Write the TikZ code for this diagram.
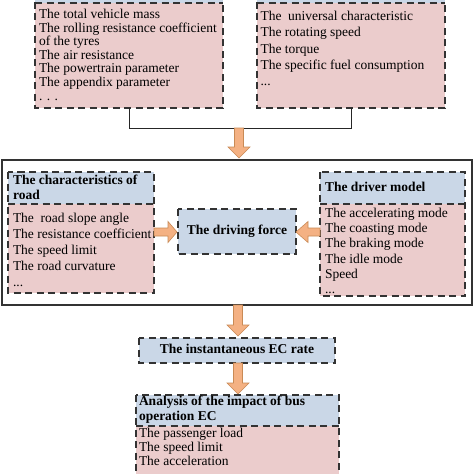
\documentclass[tikz,border=0pt]{standalone}
\usepackage{fontspec}
\setmainfont{Liberation Serif}
\definecolor{pinkf}{HTML}{EBCCCC}
\definecolor{bluef}{HTML}{CAD7E7}
\definecolor{dashc}{HTML}{333333}
\definecolor{orf}{HTML}{F4B183}
\definecolor{ord}{HTML}{C98A55}
\tikzset{
  fillbox/.style={inner sep=0pt, outer sep=0pt, anchor=north west, draw=none},
  pinkbox/.style={fillbox, fill=pinkf},
  bluebox/.style={fillbox, fill=bluef},
  dl/.style={draw=dashc, line width=1.3pt, dash pattern=on 7pt off 4.5pt},
  conn/.style={draw=black!85, line width=0.9pt},
  frameline/.style={draw=black!80, line width=1.1pt},
  blockarrow/.style={fill=orf, draw=ord, line width=0.6pt, line join=miter},
  txt/.style={inner sep=0pt, outer sep=0pt, anchor=north west, align=left},
  bodyfont/.style={font=\fontsize{13.5}{#1}\selectfont},
  headfont/.style={font=\fontsize{13.5}{#1}\selectfont\bfseries},
}
\newcommand\arrowdown[3]{%
  \draw[blockarrow] ({#1-4.5},#2) -- ({#1+4.5},#2) -- ({#1+4.5},{#3-11}) -- ({#1+11},{#3-11}) -- (#1,#3) -- ({#1-11},{#3-11}) -- ({#1-4.5},{#3-11}) -- cycle;}
\newcommand\arrowright[3]{% y, x1, xtip
  \draw[blockarrow] (#2,{#1-4}) -- (#2,{#1+4}) -- ({#3-9},{#1+4}) -- ({#3-9},{#1+10.5}) -- (#3,#1) -- ({#3-9},{#1-10.5}) -- ({#3-9},{#1-4}) -- cycle;}
\newcommand\arrowleft[3]{% y, x1, xtip
  \draw[blockarrow] (#2,{#1-4}) -- (#2,{#1+4}) -- ({#3+12},{#1+4}) -- ({#3+12},{#1+10.5}) -- (#3,#1) -- ({#3+12},{#1-10.5}) -- ({#3+12},{#1-4}) -- cycle;}
\begin{document}
\begin{tikzpicture}[x=1pt,y=-1pt]
\clip (0,0) rectangle (474,474);
\fill[white] (0,0) rectangle (474,474);

% top left box
\node[bluebox, minimum width=188pt, minimum height=13pt] (tlh) at (35,-10) {};
\node[pinkbox, minimum width=188pt, minimum height=105pt] (tlb) at (35,3) {};
\draw[dl] (tlh.north west) rectangle (tlb.south east);
\draw[dl] (tlh.south west) -- (tlh.south east);
\node[txt, bodyfont=13.6] (tlt) at (39,9.1) {The total vehicle mass\\The rolling resistance coefficient\\of the tyres\\The air resistance\\The powertrain parameter\\The appendix parameter\\. . .};

% top right box
\node[bluebox, minimum width=188pt, minimum height=13pt] (trh) at (257,-10) {};
\node[pinkbox, minimum width=188pt, minimum height=105pt] (trb) at (257,3) {};
\draw[dl] (trh.north west) rectangle (trb.south east);
\draw[dl] (trh.south west) -- (trh.south east);
\node[txt, bodyfont=16.1] (trt) at (260.5,11.5) {The\ \ universal characteristic\\The rotating speed\\The torque\\The specific fuel consumption\\...};

% connector
\draw[conn] (tlb.south) -- ++(0,20) coordinate (j1) -| (trb.south);
\coordinate (topc) at (239,128);
\arrowdown{239}{128}{158}

% frame
\node[fillbox, draw=black!80, line width=1.1pt, minimum width=470pt, minimum height=145pt] (frame) at (2,160) {};

% road box
\node[bluebox, minimum width=146pt, minimum height=32pt] (rh) at (8,172) {};
\node[pinkbox, minimum width=146pt, minimum height=89pt] (rb) at (8,204) {};
\draw[dl] (rh.north west) rectangle (rb.south east);
\draw[dl] (rh.south west) -- (rh.south east);
\node[txt, headfont=15] (rht) at (13,174.8) {The characteristics of\\road};
\node[txt, bodyfont=16] (rbt) at (13,213.5) {The\ \ road slope angle\\The resistance coefficient\\The speed limit\\The road curvature\\...};

% driver box
\node[bluebox, minimum width=145pt, minimum height=32pt] (dh) at (320,172) {};
\node[pinkbox, minimum width=145pt, minimum height=92pt] (db) at (320,204) {};
\draw[dl] (dh.north west) rectangle (db.south east);
\draw[dl] (dh.south west) -- (dh.south east);
\node[txt, headfont=15] (dht) at (325,182.4) {The driver model};
\node[txt, bodyfont=15.3] (dbt) at (325,207.8) {The accelerating mode\\The coasting mode\\The braking mode\\The idle mode\\Speed\\...};

% driving force
\node[bluebox, minimum width=118pt, minimum height=45pt] (force) at (178,209) {};
\draw[dl] (force.north west) rectangle (force.south east);
\node[inner sep=0pt, anchor=base, headfont=15] (forcet) at (237,234) {The driving force};

\arrowright{232}{154}{177}
\arrowleft{232}{320}{296}

% EC rate
\arrowdown{238}{305}{336}
\node[bluebox, minimum width=196pt, minimum height=25pt] (ec) at (139,338) {};
\draw[dl] (ec.north west) rectangle (ec.south east);
\node[inner sep=0pt, anchor=base, headfont=15] (ect) at (237,353) {The instantaneous EC rate};

\arrowdown{238}{363}{394}

% analysis box
\node[bluebox, minimum width=203pt, minimum height=31pt] (ah) at (136,395) {};
\node[pinkbox, minimum width=203pt, minimum height=60pt] (ab) at (136,426) {};
\draw[dl] (ah.north west) rectangle (ab.south east);
\draw[dl] (ah.south west) -- (ah.south east);
\node[txt, headfont=15] (aht) at (139,395.7) {Analysis of the impact of bus\\operation EC};
\node[txt, bodyfont=14] (abt) at (139,427.8) {The passenger load\\The speed limit\\The acceleration};
\end{tikzpicture}
\end{document}
